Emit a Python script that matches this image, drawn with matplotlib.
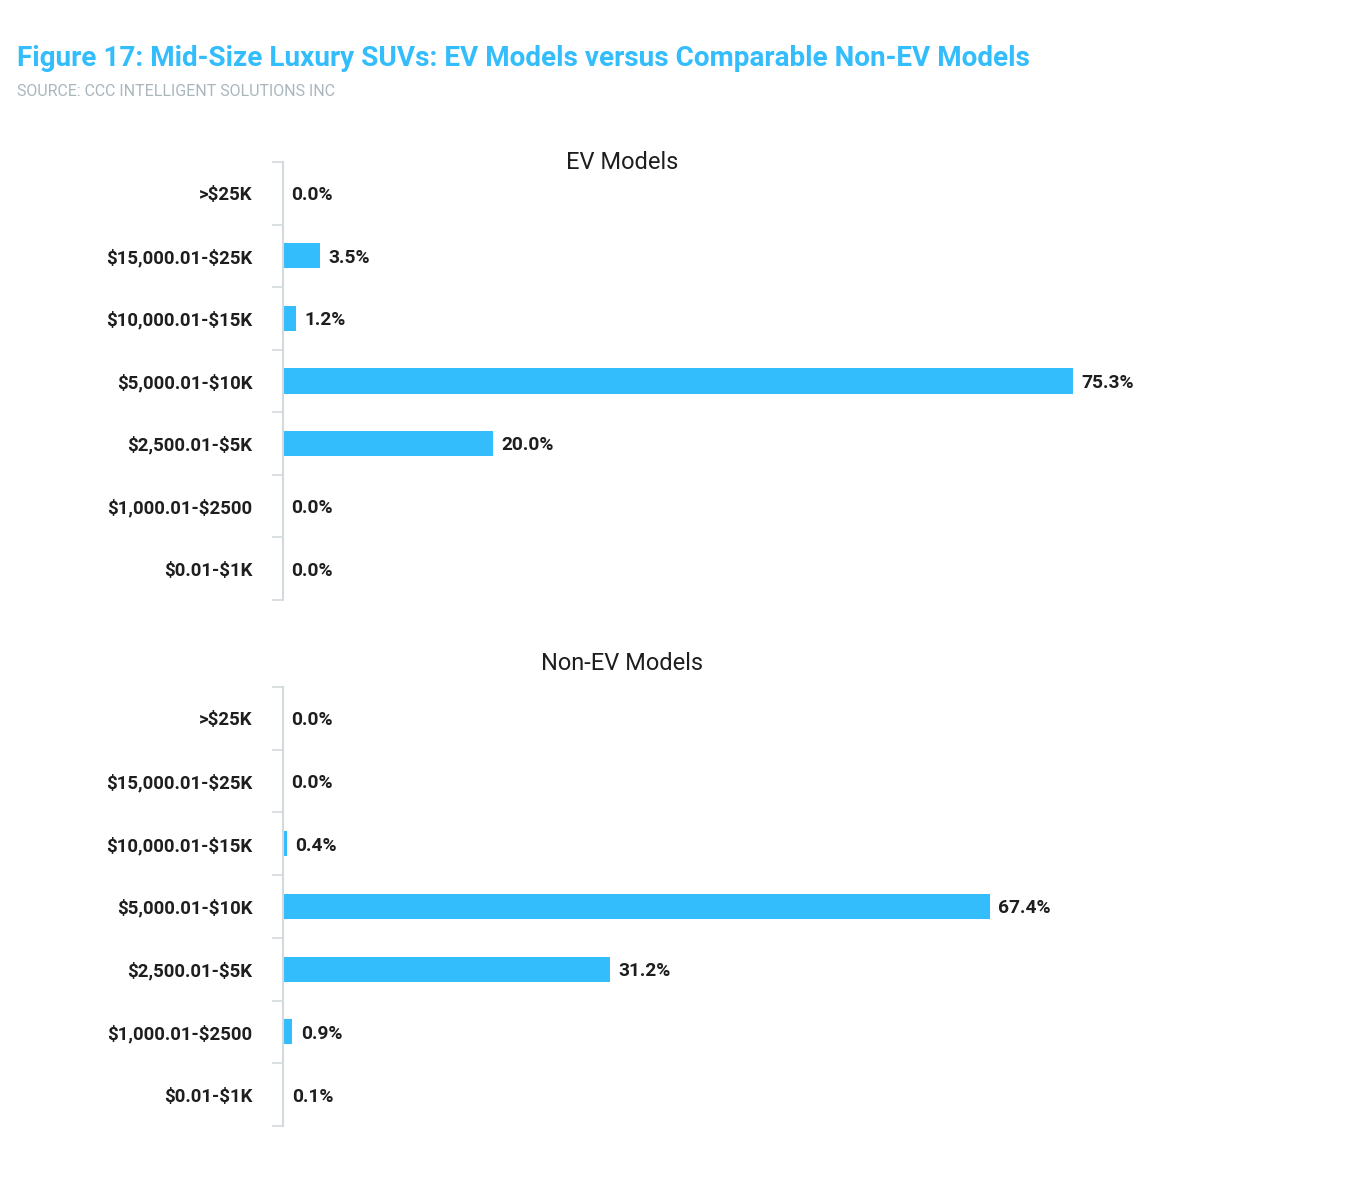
import numpy as np
import matplotlib.pyplot as plt

categories = [">$25K", "$15,000.01-$25K", "$10,000.01-$15K", "$5,000.01-$10K",
              "$2,500.01-$5K", "$1,000.01-$2500", "$0.01-$1K"]
ev_share = [0.0, 3.5, 1.2, 75.3, 20.0, 0.0, 0.0]
non_ev_share = [0.0, 0.0, 0.4, 67.4, 31.2, 0.9, 0.1]

W, H = 1362, 1184
fig = plt.figure(figsize=(W / 100, H / 100), dpi=100)
plt.rcParams['font.family'] = ['Roboto', 'DejaVu Sans']
plt.rcParams['text.parse_math'] = False

blue = "#33BDFD"
grey = "#d3dadd"
dark = "#1e1e1e"

fig.text(17 / W, 1 - 58 / H, "Figure 17: Mid-Size Luxury SUVs: EV Models versus Comparable Non-EV Models",
         color=blue, fontsize=20.1, fontweight="bold", va="center", ha="left")
fig.text(17 / W, 1 - 91 / H, "SOURCE: CCC INTELLIGENT SOLUTIONS INC",
         color="#a9b7bd", fontsize=11.5, va="center", ha="left")


def panel(top, bottom, values, title, title_y):
    ax = fig.add_axes([283 / W, 1 - bottom / H, (1332 - 283) / W, (bottom - top) / H])
    y = np.arange(len(categories))
    ax.barh(y, values, height=0.4, color=blue)
    ax.set_xlim(0, 100)
    ax.set_ylim(len(categories) - 0.5, -0.5)
    for s in ["top", "right", "bottom"]:
        ax.spines[s].set_visible(False)
    ax.spines["left"].set_color(grey)
    ax.spines["left"].set_linewidth(1.5)
    ax.set_xticks([])
    ax.set_yticks(y)
    ax.set_yticklabels(categories, fontsize=13.4, fontweight="bold", color=dark)
    ax.tick_params(axis="y", which="major", length=0, pad=22)
    ax.set_yticks(np.arange(len(categories) + 1) - 0.5, minor=True)
    ax.tick_params(axis="y", which="minor", length=8, color=grey, width=1.2)
    for yi, v in zip(y, values):
        ax.text(v + 0.8, yi + 0.03, f"{v:.1f}%", va="center", ha="left",
                fontsize=13.8, fontweight="bold", color=dark)
    fig.text(622 / W, 1 - title_y / H, title, ha="center", va="center", fontsize=17, color=dark)
    return ax


panel(162, 600, ev_share, "EV Models", 163)
panel(687, 1126, non_ev_share, "Non-EV Models", 663)

fig.savefig("out.png", dpi=100, facecolor="white")
